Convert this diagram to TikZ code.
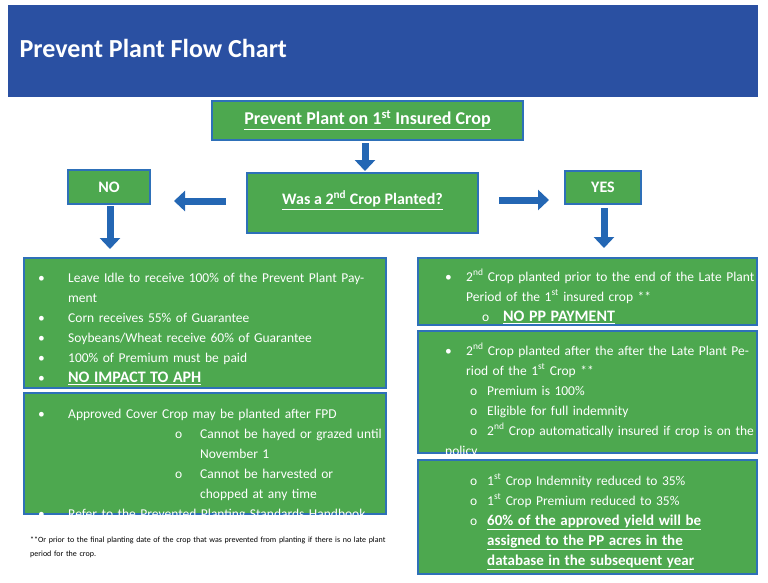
\documentclass[tikz,border=0pt]{standalone}
\usepackage{fontspec}
\setmainfont{Carlito}
\usetikzlibrary{positioning,arrows.meta}
\definecolor{ChartBlue}{HTML}{2A50A2}
\definecolor{BoxGreen}{HTML}{4DA84F}
\definecolor{EdgeBlue}{HTML}{2E70B8}
\definecolor{ArrowBlue}{HTML}{2467B4}
\newcommand{\sfirst}{1\textsuperscript{st}}
\newcommand{\snd}{2\textsuperscript{nd}}
% list line: text indent, label position, label
\newcommand{\pitem}[3]{\par\noindent\hangindent=#1pt\hangafter=1%
  \makebox[#1pt][l]{\hspace{#2pt}#3}\ignorespaces}
\newcommand{\bul}{\textbullet}

\begin{document}
\begin{tikzpicture}[x=1pt,y=-1pt,
                    every node/.style={font=\fontsize{13.5}{20}\selectfont, text=white},
                    greenbox/.style={draw=EdgeBlue, line width=1.5pt, fill=BoxGreen},
                    listtext/.style={anchor=north west, inner sep=0pt, text width=#1, align=left},
                    blockarrow/.style={draw=ArrowBlue, line width=7pt,
                                       -{Triangle[width=20pt,length=11pt]}}]
  \useasboundingbox (0,0) rectangle (768,582);
  % title band
  \fill[ChartBlue] (8,5) rectangle (758,97);
  \node[anchor=west, font=\fontsize{26}{30}\selectfont\bfseries] (title) at (16,48) {Prevent Plant Flow Chart};
  % question boxes
  \draw[greenbox] (212,101) rectangle (523,140);
  \node[font=\fontsize{18}{22}\selectfont\bfseries] (first) at (367.5,120) {\underline{Prevent Plant on \sfirst\ Insured Crop}};
  \draw[greenbox] (247,173) rectangle (478,233);
  \node[font=\fontsize{16}{20}\selectfont\bfseries] (second) at (362.5,200) {\underline{Was a \snd\ Crop Planted?}};
  \draw[greenbox] (68,170) rectangle (150,204);
  \node[font=\fontsize{16}{20}\selectfont\bfseries] (no) at (109,187) {NO};
  \draw[greenbox] (565,171) rectangle (641,204);
  \node[font=\fontsize{16}{20}\selectfont\bfseries] (yes) at (603,187) {YES};
  % arrows
  \coordinate (afrom) at (365,143); \coordinate (ato) at (365,171);
  \draw[blockarrow] (afrom) -- (ato);
  \coordinate (lfrom) at (226,201); \coordinate (lto) at (174,201);
  \draw[blockarrow] (lfrom) -- (lto);
  \coordinate (rfrom) at (499,200); \coordinate (rto) at (549,200);
  \draw[blockarrow] (rfrom) -- (rto);
  \coordinate (nfrom) at (110,206); \coordinate (nto) at (110,249);
  \draw[blockarrow] (nfrom) -- (nto);
  \coordinate (yfrom) at (604,208); \coordinate (yto) at (604,248);
  \draw[blockarrow] (yfrom) -- (yto);
  % left column
  \draw[greenbox] (24,258) rectangle (386,388);
  \node[listtext=345pt] (idle) at (38,262) {%
    \pitem{30}{0}{\bul}Leave Idle to receive 100\% of the Prevent Plant Payment
    \pitem{30}{0}{\bul}Corn receives 55\% of Guarantee
    \pitem{30}{0}{\bul}Soybeans/Wheat receive 60\% of Guarantee
    \pitem{30}{0}{\bul}100\% of Premium must be paid
    \pitem{30}{0}{\bul}{\fontsize{16}{22}\selectfont\bfseries\underline{NO IMPACT TO APH}}};
  \draw[greenbox] (24,393) rectangle (386,514);
  \node[listtext=345pt] (cover) at (38,398) {%
    \pitem{30}{0}{\bul}Approved Cover Crop may be planted after FPD
    \pitem{162}{137}{o}Cannot be hayed or grazed until November 1
    \pitem{162}{137}{o}Cannot be harvested or chopped at any time
    \pitem{30}{0}{\bul}Refer to the Prevented Planting Standards Handbook -- Exhibit 4 for the Cover Crop impact on PP eligibility and payments};
  \node[anchor=north west, inner sep=0pt, text=black, text width=360pt, align=left,
        font=\fontsize{8}{14}\selectfont] (note) at (30,537)
    {**Or prior to the final planting date of the crop that was prevented from planting if there is no late plant period for the crop.};
  % right column
  \draw[greenbox] (418,258) rectangle (757,325);
  \node[listtext=310pt] (prior) at (445,261) {%
    \pitem{21}{0}{\bul}\snd\ Crop planted prior to the end of the Late Plant Period of the \sfirst\ insured crop **
    \pitem{58}{37}{o}{\fontsize{16}{22}\selectfont\bfseries\underline{NO PP PAYMENT}}};
  \draw[greenbox] (418,331) rectangle (757,453);
  \node[listtext=310pt] (after) at (445,335) {%
    \pitem{21}{0}{\bul}\snd\ Crop planted after the after the Late Plant Period of the \sfirst\ Crop **
    \pitem{42}{25}{o}Premium is 100\%
    \pitem{42}{25}{o}Eligible for full indemnity
    \pitem{42}{25}{o}\snd\ Crop automatically insured if crop is on the policy};
  \draw[greenbox] (418,460) rectangle (757,574);
  \node[listtext=310pt] (reduce) at (445,465) {%
    \pitem{42}{25}{o}\sfirst\ Crop Indemnity reduced to 35\%
    \pitem{42}{25}{o}\sfirst\ Crop Premium reduced to 35\%
    \pitem{42}{25}{o}{\fontsize{15}{21}\selectfont\bfseries\underline{60\% of the approved yield will be}}
    \pitem{42}{25}{}{\fontsize{15}{21}\selectfont\bfseries\underline{assigned to the PP acres in the}}
    \pitem{42}{25}{}{\fontsize{15}{21}\selectfont\bfseries\underline{database in the subsequent year}}};
\end{tikzpicture}
\end{document}
